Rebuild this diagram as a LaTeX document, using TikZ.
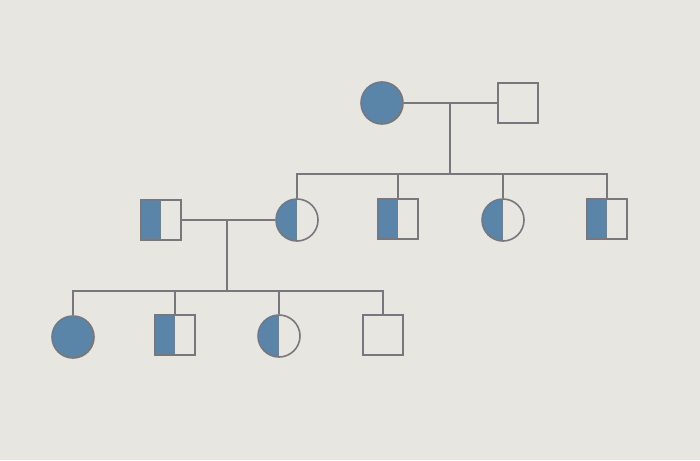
\documentclass[tikz,border=0pt]{standalone}
\definecolor{bg}{HTML}{E8E6E0}
\definecolor{pedblue}{HTML}{5A85A8}
\definecolor{pedgray}{HTML}{77777D}
\tikzset{
  person/.style={draw=pedgray, line width=1.6pt, inner sep=0pt, fill=bg},
  male/.style={person, rectangle, minimum size=40pt},
  female/.style={person, circle, minimum size=42pt},
  affected/.style={fill=pedblue},
  carrier/.style={path picture={\fill[pedblue] (path picture bounding box.south west) rectangle (path picture bounding box.north);}},
  link/.style={draw=pedgray, line width=1.6pt}
}
\begin{document}
\begin{tikzpicture}[x=1pt,y=-1pt]
\fill[bg] (0,0) rectangle (700,460);
\useasboundingbox (0,0) rectangle (700,460);
% Generation I
\node[female, affected] (I1) at (382,103) {};
\node[male] (I2) at (518,103) {};
\coordinate (m1) at (450,103);
\coordinate (s1) at (450,174);
% Generation II
\node[male, carrier] (II1) at (161,220) {};
\node[female, carrier] (II2) at (297,220) {};
\node[male, carrier] (II3) at (398,219) {};
\node[female, carrier] (II4) at (503,220) {};
\node[male, carrier] (II5) at (607,219) {};
\coordinate (m2) at (227,220);
\coordinate (s2) at (227,291);
% Generation III
\node[female, affected] (III1) at (73,337) {};
\node[male, carrier] (III2) at (175,335) {};
\node[female, carrier] (III3) at (279,336) {};
\node[male] (III4) at (383,335) {};
% connectors
\draw[link] (I1) -- (I2);
\draw[link] (m1) -- (s1);
\draw[link] (II2.north) |- (s1) -| (II5.north);
\draw[link] (II3.north) -- (II3.north |- s1);
\draw[link] (II4.north) -- (II4.north |- s1);
\draw[link] (II1) -- (II2);
\draw[link] (m2) -- (s2);
\draw[link] (III1.north) |- (s2) -| (III4.north);
\draw[link] (III2.north) -- (III2.north |- s2);
\draw[link] (III3.north) -- (III3.north |- s2);
\end{tikzpicture}
\end{document}
